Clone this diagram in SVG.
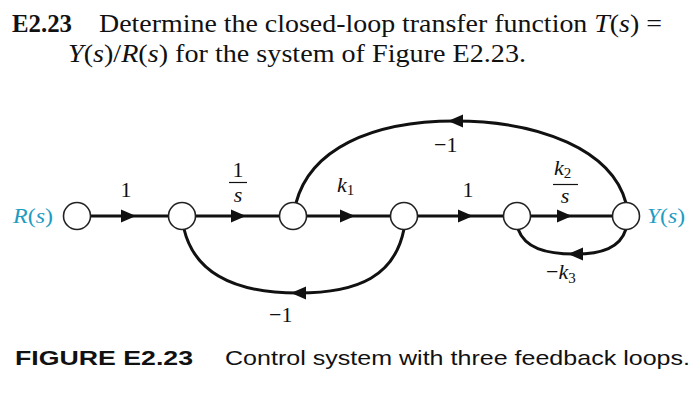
<svg xmlns="http://www.w3.org/2000/svg" width="700" height="403" viewBox="0 0 700 403">
<style>
.t{font-family:"Liberation Serif","Times New Roman",serif;fill:#111;font-size:25px}
.it{font-style:italic}
.lbl{font-family:"Liberation Serif","Times New Roman",serif;font-size:22px;fill:#111}
.io{font-family:"Liberation Serif","Times New Roman",serif;font-size:22px;fill:#1e9cc2;font-style:italic}
.cap{font-family:"Liberation Sans",Arial,sans-serif;font-size:21px;fill:#111}
.node{fill:#fff;stroke:#222;stroke-width:1.6}
.edge{fill:none;stroke:#111;stroke-width:3}
</style>
<defs>
<marker id="ah" markerUnits="userSpaceOnUse" markerWidth="16" markerHeight="14" viewBox="0 0 16 14" refX="8" refY="7" orient="auto">
<path d="M0,0.5 L15,7 L0,13.5 z" fill="#111"/>
</marker>
</defs>
<rect width="700" height="403" fill="#fff"/>
<text class="t" x="12" y="32" font-weight="bold" textLength="60" lengthAdjust="spacingAndGlyphs">E2.23</text>
<text class="t" x="99" y="32" textLength="563" lengthAdjust="spacingAndGlyphs">Determine the closed-loop transfer function <tspan class="it">T</tspan>(<tspan class="it">s</tspan>) =</text>
<text class="t" x="68" y="62" textLength="458" lengthAdjust="spacingAndGlyphs"><tspan class="it">Y</tspan>(<tspan class="it">s</tspan>)/<tspan class="it">R</tspan>(<tspan class="it">s</tspan>) for the system of Figure E2.23.</text>
<g id="connectors">
<path class="edge" d="M90,216 L129,216 L169,216" marker-mid="url(#ah)"/>
<path class="edge" d="M196,216 L239,216 L279,216" marker-mid="url(#ah)"/>
<path class="edge" d="M307,216 L348,216 L390,216" marker-mid="url(#ah)"/>
<path class="edge" d="M418,216 L466,216 L503,216" marker-mid="url(#ah)"/>
<path class="edge" d="M531,216 L565,216 L612,216" marker-mid="url(#ah)"/>
<path class="edge" d="M626,203 C612,150 540,121 455,121 C370,121 310,150 296,203" marker-mid="url(#ah)"/>
<path class="edge" d="M404,229 C395,275 360,293 298,293 C238,293 195,275 184,229" marker-mid="url(#ah)"/>
<path class="edge" d="M626,229 C620,248 602,254 575,254 C545,254 525,248 518,229" marker-mid="url(#ah)"/>
</g>
<g id="n0"><circle class="node" cx="77" cy="216" r="13.5"/></g>
<g id="n1"><circle class="node" cx="182" cy="216" r="13.5"/></g>
<g id="n2"><circle class="node" cx="293" cy="216" r="13.5"/></g>
<g id="n3"><circle class="node" cx="404" cy="216" r="13.5"/></g>
<g id="n4"><circle class="node" cx="517" cy="216" r="13.5"/></g>
<g id="n5"><circle class="node" cx="626" cy="216" r="13.5"/></g>
<g id="labels">
<text class="io" x="13" y="223" textLength="40" lengthAdjust="spacingAndGlyphs">R<tspan font-style="normal">(</tspan>s<tspan font-style="normal">)</tspan></text>
<text class="io" x="647" y="223" textLength="38" lengthAdjust="spacingAndGlyphs">Y<tspan font-style="normal">(</tspan>s<tspan font-style="normal">)</tspan></text>
<text class="lbl" x="126" y="197" text-anchor="middle">1</text>
<text class="lbl" x="238" y="177" text-anchor="middle">1</text>
<line x1="229" y1="182.5" x2="247" y2="182.5" stroke="#111" stroke-width="1.2"/>
<text class="lbl it" x="238" y="202" text-anchor="middle">s</text>
<text class="lbl" x="337" y="192"><tspan class="it">k</tspan><tspan font-size="15" dy="3">1</tspan></text>
<text class="lbl" x="468" y="197" text-anchor="middle">1</text>
<text class="lbl" x="554" y="175"><tspan class="it">k</tspan><tspan font-size="15" dy="3">2</tspan></text>
<line x1="553" y1="184.5" x2="578" y2="184.5" stroke="#111" stroke-width="1.2"/>
<text class="lbl it" x="565" y="203" text-anchor="middle">s</text>
<text class="lbl" x="434" y="152">−1</text>
<text class="lbl" x="269" y="322">−1</text>
<text class="lbl" x="546" y="279">−<tspan class="it">k</tspan><tspan font-size="15" dy="4">3</tspan></text>
</g>
<text class="cap" x="15" y="365" font-weight="bold" textLength="178" lengthAdjust="spacingAndGlyphs">FIGURE E2.23</text>
<text class="cap" x="225" y="365" textLength="465" lengthAdjust="spacingAndGlyphs">Control system with three feedback loops.</text>
</svg>
